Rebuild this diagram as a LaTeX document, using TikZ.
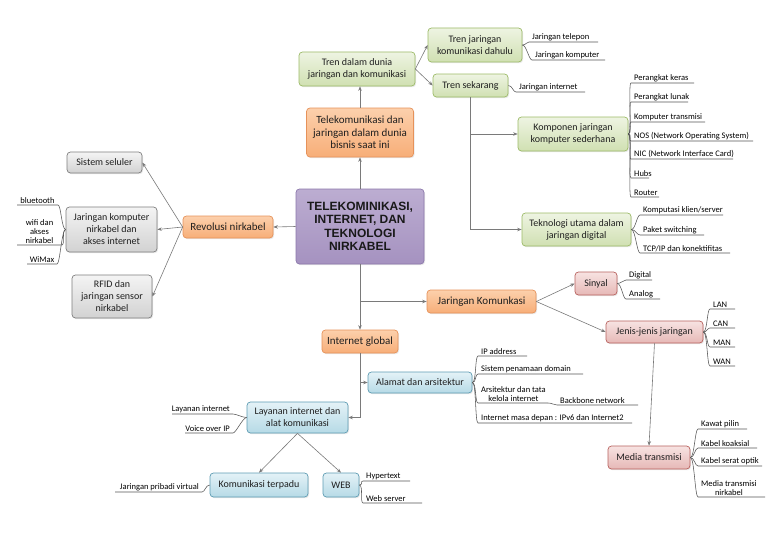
\documentclass[tikz,border=0pt]{standalone}
\usepackage{fontspec}
\setmainfont{Carlito}
\newfontfamily\arialf{Liberation Sans}
\usetikzlibrary{arrows.meta,shadows,calc}
\definecolor{grnT}{HTML}{EEF4E2}\definecolor{grnD}{HTML}{D0E0B2}\definecolor{grnB}{HTML}{9DBB68}
\definecolor{orT}{HTML}{FCD0AC}\definecolor{orD}{HTML}{F7AE78}\definecolor{orB}{HTML}{E6925A}
\definecolor{puT}{HTML}{BCADD1}\definecolor{puD}{HTML}{A592C0}\definecolor{puB}{HTML}{8C78AC}
\definecolor{piT}{HTML}{F7E3E2}\definecolor{piD}{HTML}{E6B8B6}\definecolor{piB}{HTML}{B8625E}
\definecolor{blT}{HTML}{E4F2F7}\definecolor{blD}{HTML}{B6DAE6}\definecolor{blB}{HTML}{5E9CB3}
\definecolor{grT}{HTML}{F4F4F4}\definecolor{grD}{HTML}{D2D2D2}\definecolor{grB}{HTML}{7F7F7F}
\definecolor{connC}{HTML}{7A7A7A}\definecolor{leafC}{HTML}{555555}
\tikzset{
 box/.style={rounded corners=3.5pt, draw, line width=0.7pt, align=center, inner sep=1pt,
   text=black!88, drop shadow={opacity=0.18,shadow xshift=1pt,shadow yshift=-1.2pt}},
 grn/.style={box, draw=grnB, top color=grnT, bottom color=grnD, font=\fontsize{10}{12}\selectfont},
 orn/.style={box, draw=orB, top color=orT, bottom color=orD, font=\fontsize{11}{12.5}\selectfont},
 pur/.style={box, draw=puB, top color=puT, bottom color=puD, font=\arialf\bfseries\fontsize{12}{13.5}\selectfont, text=black!90},
 pnk/.style={box, draw=piB, top color=piT, bottom color=piD, font=\fontsize{10}{12}\selectfont},
 blu/.style={box, draw=blB, top color=blT, bottom color=blD, font=\fontsize{10}{12}\selectfont},
 gry/.style={box, draw=grB, top color=grT, bottom color=grD, font=\fontsize{10}{12}\selectfont},
 conn/.style={draw=connC, line width=0.6pt, -{Stealth[length=4.5pt,width=3.5pt]}},
 leafline/.style={draw=leafC, line width=0.55pt},
 leaftext/.style={font=\fontsize{8.5}{9}\selectfont, inner sep=1pt, align=center, text=black},
}
\newcommand\leafR[6]{%
 \coordinate (#1s) at (#3,#4);
 \coordinate (#1e) at (#5,#4);
 \draw[leafline] (#2) .. controls +(4,0) and +(-3,0) .. (#1s) -- (#1e);
 \node[leaftext, anchor=south west, xshift=2pt] (#1) at (#1s) {#6};
}
\newcommand\leafL[6]{%
 \coordinate (#1s) at (#3,#4);
 \coordinate (#1e) at (#5,#4);
 \draw[leafline] (#1s) -- (#1e) .. controls +(3,0) and +(-4,0) .. (#2);
 \node[leaftext, anchor=south east, xshift=-2pt] (#1) at (#1e) {#6};
}
\newcommand\leafLc[6]{%
 \coordinate (#1s) at (#3,#4);
 \coordinate (#1e) at (#5,#4);
 \draw[leafline] (#1s) -- (#1e) .. controls +(3,0) and +(-4,0) .. (#2);
 \node[leaftext, anchor=south] (#1) at ($(#1s)!0.5!(#1e)$) {#6};
}
\begin{document}
\begin{tikzpicture}[x=1pt,y=-1pt]
\fill[white] (0,0) rectangle (768,543);
\useasboundingbox (0,0) rectangle (768,543);

% nodes
\node[pur, minimum width=128pt, minimum height=75pt] (main) at (360,226.5) {TELEKOMINIKASI,\\INTERNET, DAN\\TEKNOLOGI\\NIRKABEL};
\node[orn, minimum width=107pt, minimum height=49pt] (tele) at (360,132.5) {Telekomunikasi dan\\jaringan dalam dunia\\bisnis saat ini};
\node[grn, minimum width=116pt, minimum height=34pt] (tren) at (357,69) {Tren dalam dunia\\jaringan dan komunikasi};
\node[grn, minimum width=94pt, minimum height=34pt] (dahulu) at (475,45) {Tren jaringan\\komunikasi dahulu};
\node[grn, minimum width=75pt, minimum height=23pt] (sekarang) at (470.5,85.5) {Tren sekarang};
\node[grn, minimum width=110pt, minimum height=34pt] (komponen) at (573,134) {Komponen jaringan\\komputer sederhana};
\node[grn, minimum width=109pt, minimum height=33pt] (teknologi) at (576.5,229.5) {Teknologi utama dalam\\jaringan digital};
\node[orn, minimum width=90pt, minimum height=22pt] (revolusi) at (228,227) {Revolusi nirkabel};
\node[gry, minimum width=75pt, minimum height=21pt] (seluler) at (104.5,162.5) {Sistem seluler};
\node[gry, minimum width=91pt, minimum height=45pt] (jknirkabel) at (111.5,229.5) {Jaringan komputer\\nirkabel dan\\akses internet};
\node[gry, minimum width=80pt, minimum height=43pt] (rfid) at (112,296.5) {RFID dan\\jaringan sensor\\nirkabel};
\node[orn, minimum width=109pt, minimum height=23pt] (jkom) at (481.5,301.5) {Jaringan Komunkasi};
\node[orn, minimum width=76pt, minimum height=23pt] (inetglobal) at (360,341.5) {Internet global};
\node[pnk, minimum width=42pt, minimum height=23pt] (sinyal) at (596,283.5) {Sinyal};
\node[pnk, minimum width=97pt, minimum height=22pt] (jenis) at (654.5,332) {Jenis-jenis jaringan};
\node[pnk, minimum width=82pt, minimum height=23pt] (media) at (649,457.5) {Media transmisi};
\node[blu, minimum width=104pt, minimum height=21pt] (alamat) at (420,382.5) {Alamat dan arsitektur};
\node[blu, minimum width=101pt, minimum height=31pt] (layanan) at (297.5,417.5) {Layanan internet dan\\alat komunikasi};
\node[blu, minimum width=98pt, minimum height=24pt] (kterpadu) at (259,485) {Komunikasi terpadu};
\node[blu, minimum width=36pt, minimum height=24pt] (web) at (341,485) {WEB};

% connectors
\draw[conn] (main.west) -- (revolusi.east);
\draw[conn] (main.north) -- (tele.south);
\draw[conn] (tele.north) -- (tele.north |- tren.south);
\draw[conn] (tren.east) -- (dahulu.west);
\draw[conn] (tren.east) -- (sekarang.west);
\draw[conn] (sekarang.south) |- (komponen.west);
\draw[conn] (sekarang.south) |- (teknologi.west);
\draw[conn] (main.south) |- (jkom.west);
\draw[conn] (main.south) -- (inetglobal.north);
\draw[conn] (inetglobal.south) |- (alamat.west);
\draw[conn] (inetglobal.south) |- (layanan.east);
\draw[conn] (jkom.east) -- (sinyal.west);
\draw[conn] (jkom.east) -- (jenis.west);
\draw[conn] (jenis.south) -- (media.north);
\draw[conn] (revolusi.west) -- (seluler.east);
\draw[conn] (revolusi.west) -- (jknirkabel.east);
\draw[conn] (revolusi.west) -- (rfid.east);
\draw[conn] (layanan.south) -- (kterpadu.north);
\draw[conn] (layanan.south) -- (web.north);

% leaves
\leafR{la}{dahulu.east}{529}{42}{598}{Jaringan telepon}
\leafR{lb}{dahulu.east}{532}{60}{605}{Jaringan komputer}
\leafR{lc}{sekarang.east}{516}{92}{585}{Jaringan internet}
\leafR{ld}{komponen.east}{631}{83}{694}{Perangkat keras}
\leafR{le}{komponen.east}{631}{102}{688}{Perangkat lunak}
\leafR{lf}{komponen.east}{631}{122}{705}{Komputer transmisi}
\leafR{lg}{komponen.east}{631}{141}{753}{NOS (Network Operating System)}
\leafR{lh}{komponen.east}{631}{159}{733}{NIC (Network Interface Card)}
\leafR{li}{komponen.east}{631}{178}{649}{Hubs}
\leafR{lj}{komponen.east}{631}{197}{659}{Router}
\leafR{lk}{teknologi.east}{640}{215}{723}{Komputasi klien/server}
\leafR{ll}{teknologi.east}{640}{235}{704}{Paket switching}
\leafR{lm}{teknologi.east}{640}{253}{730}{TCP/IP dan konektifitas}
\leafR{ln}{sinyal.east}{626}{280}{652}{Digital}
\leafR{lo}{sinyal.east}{626}{299}{660}{Analog}
\leafR{lp}{jenis.east}{710}{309}{735}{LAN}
\leafR{lq}{jenis.east}{710}{328}{735}{CAN}
\leafR{lr}{jenis.east}{710}{347}{735}{MAN}
\leafR{ls}{jenis.east}{710}{366}{735}{WAN}
\leafR{lt}{media.east}{698}{429}{747}{Kawat pilin}
\leafR{lu}{media.east}{698}{448}{757}{Kabel koaksial}
\leafR{lv}{media.east}{698}{466}{762}{Kabel serat optik}
\leafR{lw}{media.east}{698}{497}{765}{Media transmisi\\nirkabel}
\leafR{lx}{alamat.east}{478}{356}{527}{IP address}
\leafR{ly}{alamat.east}{478}{374}{583}{Sistem penamaan domain}
\leafR{lz}{alamat.east}{478}{403}{548}{Arsitektur dan tata\\kelola internet}
\leafR{bb}{lze}{557}{405}{638}{Backbone network}
\leafR{ma}{alamat.east}{478}{423}{632}{Internet masa depan : IPv6 dan Internet2}
\leafR{mb}{web.east}{363}{481}{410}{Hypertext}
\leafR{mc}{web.east}{363}{503}{422}{Web server}
\leafL{md}{layanan.west}{172}{414}{233}{Layanan internet}
\leafL{me}{layanan.west}{185}{433}{233}{Voice over IP}
\leafL{mf}{kterpadu.west}{115}{492}{202}{Jaringan pribadi virtual}
\leafLc{mg}{jknirkabel.west}{17}{205}{58}{bluetooth}
\leafLc{mh}{jknirkabel.west}{17}{245}{62}{wifi dan\\akses\\nirkabel}
\leafLc{mi}{jknirkabel.west}{27}{264}{57}{WiMax}
\end{tikzpicture}
\end{document}
